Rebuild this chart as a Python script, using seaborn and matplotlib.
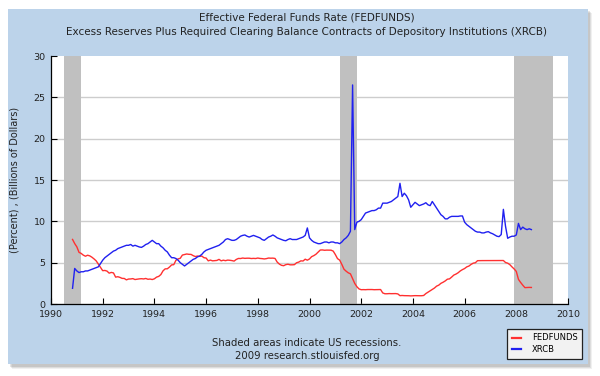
import numpy as np
import pandas as pd
import seaborn as sns
import matplotlib.pyplot as plt
from matplotlib.patches import Rectangle

## monthly values, Nov 1990 .. Aug 2008
start_year = 1990
start_month = 11

fedfunds = [7.81, 7.31,
            6.91, 6.25, 6.12, 5.91, 5.78, 5.90, 5.82, 5.66, 5.45, 5.21, 4.81, 4.43,
            4.03, 4.06, 3.98, 3.73, 3.82, 3.76, 3.25, 3.30, 3.22, 3.10, 3.09, 2.92,
            3.02, 3.03, 3.07, 2.96, 3.00, 3.04, 3.06, 3.03, 3.09, 2.99, 3.02, 2.96,
            3.05, 3.25, 3.34, 3.56, 4.01, 4.25, 4.26, 4.47, 4.73, 4.76, 5.29, 5.45,
            5.53, 5.92, 5.98, 6.05, 6.01, 6.00, 5.85, 5.74, 5.80, 5.76, 5.80, 5.60,
            5.56, 5.22, 5.31, 5.22, 5.24, 5.27, 5.40, 5.22, 5.30, 5.24, 5.31, 5.29,
            5.25, 5.19, 5.39, 5.51, 5.50, 5.56, 5.52, 5.54, 5.54, 5.50, 5.52, 5.50,
            5.56, 5.51, 5.49, 5.45, 5.49, 5.56, 5.54, 5.55, 5.51, 5.07, 4.83, 4.68,
            4.63, 4.76, 4.81, 4.74, 4.74, 4.76, 4.99, 5.07, 5.22, 5.20, 5.42, 5.30,
            5.45, 5.73, 5.85, 6.02, 6.27, 6.53, 6.54, 6.50, 6.52, 6.51, 6.51, 6.40,
            5.98, 5.49, 5.31, 4.80, 4.21, 3.97, 3.77, 3.65, 3.07, 2.49, 2.09, 1.82,
            1.73, 1.74, 1.73, 1.75, 1.75, 1.75, 1.73, 1.74, 1.75, 1.75, 1.34, 1.24,
            1.24, 1.26, 1.25, 1.26, 1.26, 1.22, 1.01, 1.03, 1.01, 1.01, 1.00, 0.98,
            1.00, 1.01, 1.00, 1.00, 1.00, 1.03, 1.26, 1.43, 1.61, 1.76, 1.93, 2.16,
            2.28, 2.50, 2.63, 2.79, 3.00, 3.04, 3.26, 3.50, 3.62, 3.78, 4.00, 4.16,
            4.29, 4.49, 4.59, 4.79, 4.94, 4.99, 5.24, 5.25, 5.25, 5.25, 5.25, 5.24,
            5.25, 5.26, 5.26, 5.25, 5.25, 5.25, 5.26, 5.02, 4.94, 4.76, 4.49, 4.24,
            3.94, 2.98, 2.61, 2.28, 1.98, 2.00, 2.01, 2.00]

xrcb = [1.9, 4.3,
        4.0, 3.8, 3.9, 3.9, 4.0, 4.0, 4.1, 4.2, 4.3, 4.4, 4.5, 4.9,
        5.3, 5.6, 5.8, 6.0, 6.2, 6.4, 6.5, 6.7, 6.8, 6.9, 7.0, 7.1,
        7.1, 7.2, 7.0, 7.1, 7.0, 6.9, 6.85, 7.0, 7.2, 7.3, 7.5, 7.7,
        7.5, 7.3, 7.3, 7.0, 6.8, 6.5, 6.3, 5.9, 5.6, 5.6, 5.5, 5.3,
        5.0, 4.8, 4.6, 4.8, 5.0, 5.2, 5.4, 5.5, 5.7, 5.8, 6.0, 6.3,
        6.5, 6.6, 6.7, 6.8, 6.9, 7.0, 7.1, 7.3, 7.5, 7.8, 7.9, 7.8,
        7.7, 7.7, 7.8, 8.0, 8.2, 8.3, 8.35, 8.2, 8.1, 8.2, 8.3, 8.2,
        8.1, 8.0, 7.8, 7.7, 7.9, 8.1, 8.2, 8.35, 8.2, 8.0, 7.9, 7.8,
        7.7, 7.65, 7.8, 7.9, 7.8, 7.8, 7.8, 7.9, 8.0, 8.1, 8.3, 9.2,
        8.0, 7.7, 7.5, 7.4, 7.3, 7.3, 7.4, 7.5, 7.5, 7.4, 7.5, 7.5,
        7.4, 7.4, 7.3, 7.5, 7.8, 8.0, 8.3, 8.8, 26.5, 9.0, 9.9, 10.0,
        10.2, 10.6, 11.0, 11.1, 11.2, 11.3, 11.3, 11.4, 11.6, 11.6, 12.2, 12.2,
        12.2, 12.3, 12.4, 12.6, 12.8, 13.0, 14.6, 13.0, 13.4, 13.1, 12.6, 11.7,
        12.0, 12.3, 12.1, 11.9, 12.0, 12.1, 12.25, 12.0, 11.9, 12.4, 12.0, 11.6,
        11.2, 10.8, 10.6, 10.3, 10.3, 10.5, 10.6, 10.6, 10.6, 10.6, 10.65, 10.65,
        9.9, 9.6, 9.4, 9.2, 9.0, 8.8, 8.7, 8.7, 8.6, 8.6, 8.7, 8.75,
        8.6, 8.5, 8.35, 8.2, 8.15, 8.4, 11.45, 9.4, 7.95, 8.1, 8.2, 8.2,
        8.35, 9.75, 9.0, 9.3, 9.1, 9.0, 9.1, 9.0]

recession_start = [1990.5, 2001.17, 2007.92]
recession_end = [1991.17, 2001.83, 2009.42]

n = len(fedfunds)
year = start_year + (start_month - 1) / 12 + np.arange(n) / 12
df = pd.DataFrame({"year": np.concatenate([year, year]),
                   "value": fedfunds + xrcb,
                   "series": ["FEDFUNDS"] * n + ["XRCB"] * n})

W, H = 600, 376
fig = plt.figure(figsize=(6, 3.76), dpi=100)
fig.patch.set_facecolor("white")

# shadow + blue panel
for i, a in enumerate([0.10, 0.08, 0.06]):
    fig.patches.append(Rectangle(((10 + i) / W, 1 - (367 + i) / H), 580 / W, 356 / H,
                                 transform=fig.transFigure, facecolor="black",
                                 alpha=a, edgecolor="none", zorder=-3))
fig.patches.append(Rectangle((8 / W, 1 - 364 / H), 580 / W, 355 / H,
                             transform=fig.transFigure, facecolor="#bcd3ea",
                             edgecolor="none", zorder=-2))

ax = fig.add_axes([51 / W, 1 - 304 / H, 517 / W, 248 / H])
ax.set_facecolor("white")
ax.set_axisbelow(True)

for s, e in zip(recession_start, recession_end):
    ax.axvspan(s, e, color="#c0c0c0", lw=0, zorder=1)

sns.lineplot(data=df, x="year", y="value", hue="series",
             palette={"FEDFUNDS": "#ff3030", "XRCB": "#2020f0"},
             lw=1.0, ax=ax, legend=False, zorder=2)

ax.set_xlim(1990, 2010)
ax.set_ylim(0, 30)
ax.set_xticks(range(1990, 2011, 2))
ax.set_yticks(range(0, 31, 5))
ax.yaxis.grid(True, color="#cdcdcd", lw=1.0)
ax.get_ygridlines()[-1].set_visible(False)
for side in ["top", "right"]:
    ax.spines[side].set_visible(False)
for side in ["left", "bottom"]:
    ax.spines[side].set_color("black")
    ax.spines[side].set_linewidth(0.9)
ax.tick_params(direction="in", length=4, width=0.8, labelsize=6.8, pad=4,
               colors="black", labelcolor="#222222")
ax.set_xlabel("")
ax.set_ylabel("(Percent) , (Billions of Dollars)", fontsize=7, color="#222222", labelpad=10)

fig.text(307 / W, 1 - 18 / H, "Effective Federal Funds Rate (FEDFUNDS)",
         ha="center", va="center", fontsize=7.5, color="#222222")
fig.text(307 / W, 1 - 32 / H,
         "Excess Reserves Plus Required Clearing Balance Contracts of Depository Institutions (XRCB)",
         ha="center", va="center", fontsize=7.5, color="#222222")
fig.text(307 / W, 1 - 343 / H, "Shaded areas indicate US recessions.",
         ha="center", va="center", fontsize=7.3, color="#222222")
fig.text(307 / W, 1 - 356 / H, "2009 research.stlouisfed.org",
         ha="center", va="center", fontsize=7.3, color="#222222")

handles = ax.get_lines()[:2]
leg = fig.legend(handles, ["FEDFUNDS", "XRCB"], loc="lower right",
                 bbox_to_anchor=(582 / W, 1 - 359 / H), fontsize=6,
                 frameon=True, fancybox=False, handlelength=1.1,
                 handletextpad=1.3, borderpad=0.55, borderaxespad=0,
                 labelspacing=0.35, edgecolor="#222222", facecolor="#f2f2f2",
                 framealpha=1)
leg.get_frame().set_linewidth(0.9)
for h in leg.legend_handles:
    h.set_linewidth(1.6)

fig.savefig("out.png", dpi=100)
